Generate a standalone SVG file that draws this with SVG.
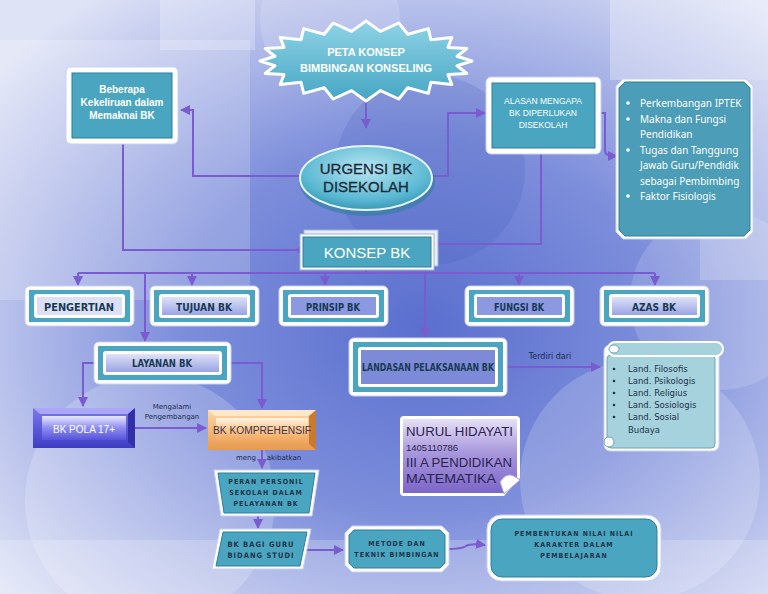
<svg xmlns="http://www.w3.org/2000/svg" width="768" height="594" viewBox="0 0 768 594">
<defs>
<radialGradient id="bg" cx="0.55" cy="0.55" r="0.7">
<stop offset="0" stop-color="#5a6fcf"/>
<stop offset="0.45" stop-color="#7d8edb"/>
<stop offset="1" stop-color="#dfe3f6"/>
</radialGradient>
<linearGradient id="burst" x1="0" y1="0" x2="0" y2="1">
<stop offset="0" stop-color="#8fd3e6"/>
<stop offset="1" stop-color="#45a6c3"/>
</linearGradient>
<radialGradient id="ell" cx="0.5" cy="0.35" r="0.7">
<stop offset="0" stop-color="#b8e6f2"/>
<stop offset="0.7" stop-color="#5ab8d2"/>
<stop offset="1" stop-color="#2f8fae"/>
</radialGradient>
<linearGradient id="pola" x1="0" y1="0" x2="0" y2="1">
<stop offset="0" stop-color="#7a78ee"/>
<stop offset="1" stop-color="#3e3cc4"/>
</linearGradient>
<linearGradient id="polaIn" x1="0" y1="0" x2="0" y2="1">
<stop offset="0" stop-color="#e6e8ff"/>
<stop offset="0.5" stop-color="#8e8cf2"/>
<stop offset="1" stop-color="#5553d8"/>
</linearGradient>
<linearGradient id="komp" x1="0" y1="0" x2="0" y2="1">
<stop offset="0" stop-color="#ffd7a8"/>
<stop offset="1" stop-color="#e79a4e"/>
</linearGradient>
<linearGradient id="kompIn" x1="0" y1="0" x2="0" y2="1">
<stop offset="0" stop-color="#fff4e4"/>
<stop offset="0.5" stop-color="#fcc58a"/>
<stop offset="1" stop-color="#f0a45c"/>
</linearGradient>
<linearGradient id="card" x1="0" y1="0" x2="0" y2="1">
<stop offset="0" stop-color="#e6e0f6"/>
<stop offset="0.45" stop-color="#a898dc"/>
<stop offset="1" stop-color="#7c66c8"/>
</linearGradient>
<linearGradient id="inner" x1="0" y1="0" x2="0" y2="1">
<stop offset="0" stop-color="#dfe2f8"/>
<stop offset="1" stop-color="#9aa4e4"/>
</linearGradient>
<marker id="ah" viewBox="0 0 10 10" refX="9" refY="5" markerWidth="5" markerHeight="5" orient="auto">
<path d="M0,0 L10,5 L0,10 z" fill="#7b5bd0"/>
</marker>
<style>
.ln{fill:none;stroke:#7b5bd0;stroke-width:2}
.frame{fill:#ffffff;stroke:#c9d2ee;stroke-width:1}
.teal{fill:#4aa6c0;stroke:#2f7f98;stroke-width:1}
.cap{font-family:"DejaVu Sans Condensed","DejaVu Sans",sans-serif;font-weight:bold;fill:#173a52;text-anchor:middle}
.wt{font-family:"Liberation Sans",Arial,sans-serif;fill:#ffffff;text-anchor:middle}
.sm{font-family:"DejaVu Sans Condensed","DejaVu Sans",sans-serif;font-weight:bold;fill:#1d3347;text-anchor:middle;letter-spacing:1px}
.bul{font-family:"Noto Sans",sans-serif;fill:#ffffff;font-size:10px}
.sc{font-family:"DejaVu Sans","Liberation Sans",sans-serif;fill:#1d3347;font-size:8.5px}
.lbl{font-family:"DejaVu Sans","Liberation Sans",sans-serif;fill:#1d2a4a;font-size:7px;text-anchor:middle}
</style>
</defs>

<!-- background -->
<rect width="768" height="594" fill="url(#bg)"/>
<g fill="#ffffff">
<rect x="0" y="40" width="250" height="260" opacity="0.2"/>
<rect x="160" y="0" width="95" height="50" opacity="0.25"/>
<rect x="610" y="0" width="158" height="80" opacity="0.3"/>
<circle cx="150" cy="500" r="125" opacity="0.2"/>
<circle cx="430" cy="170" r="95" fill="#3d56b8" opacity="0.18"/>
<circle cx="640" cy="480" r="120" opacity="0.18"/>
<circle cx="720" cy="300" r="90" opacity="0.15"/>
<circle cx="330" cy="20" r="70" opacity="0.15"/>
<rect x="0" y="540" width="768" height="54" opacity="0.2"/>
<rect x="700" y="80" width="68" height="200" opacity="0.2"/>
</g>

<!-- connectors -->
<g id="connectors">
<path class="ln" d="M366,101 V128" marker-end="url(#ah)"/>
<path class="ln" d="M305,176 H193 V110 H181" marker-end="url(#ah)"/>
<path class="ln" d="M430,176 H448 V113 H485" marker-end="url(#ah)"/>
<path class="ln" d="M600,113 H605 V150 Q605,156 612,156 H617" marker-end="url(#ah)"/>
<path class="ln" d="M541,153 V244 H437"/>
<circle cx="437" cy="244" r="3" fill="#7b5bd0"/>
<path class="ln" d="M123,143 V250 H300"/>
<circle cx="300" cy="250" r="3" fill="#7b5bd0"/>
<path class="ln" d="M366,270 V273"/>
<path class="ln" d="M78,273 H655"/>
<path class="ln" d="M78,273 V285" marker-end="url(#ah)"/>
<path class="ln" d="M192,273 V285" marker-end="url(#ah)"/>
<path class="ln" d="M325,273 V285" marker-end="url(#ah)"/>
<path class="ln" d="M519,273 V285" marker-end="url(#ah)"/>
<path class="ln" d="M655,273 V285" marker-end="url(#ah)"/>
<path class="ln" d="M145,273 V341" marker-end="url(#ah)"/>
<path class="ln" d="M425,273 V337" marker-end="url(#ah)"/>
<path class="ln" d="M505,367 H600" marker-end="url(#ah)"/>
<path class="ln" d="M95,363 H83 V406" marker-end="url(#ah)"/>
<path class="ln" d="M230,363 H262 V408" marker-end="url(#ah)"/>
<path class="ln" d="M135,428 H206" marker-end="url(#ah)"/>
<path class="ln" d="M262,450 V468" marker-end="url(#ah)"/>
<path class="ln" d="M258,515 V528" marker-end="url(#ah)"/>
<path class="ln" d="M305,550 H343" marker-end="url(#ah)"/>
<path class="ln" d="M447,549 Q462,549 466,546 Q470,543 485,545" marker-end="url(#ah)"/>
</g>

<!-- title -->
<g id="title">
<polygon points="472,61 457,65.7 466.8,73.4 448,74.6 451.8,84.5 431,82.2 428.3,93.4 407.8,87.7 398.8,99 380.4,90.6 366,101 351.6,90.6 333.2,99 324.2,87.7 303.7,93.4 301,82.2 280.2,84.5 284,74.6 265.2,73.4 275,65.7 260,61 275,56.3 265.2,48.6 284,47.4 280.2,37.5 301,39.8 303.7,28.6 324.2,34.3 333.2,23 351.6,31.4 366,21 380.4,31.4 398.8,23 407.8,34.3 428.3,28.6 431,39.8 451.8,37.5 448,47.4 466.8,48.6 457,56.3" fill="url(#burst)" stroke="#ffffff" stroke-width="3" stroke-linejoin="round"/>
<text class="wt" x="366" y="56" font-size="11" font-weight="bold">PETA KONSEP</text>
<text class="wt" x="366" y="72" font-size="11" font-weight="bold">BIMBINGAN KONSELING</text>
</g>

<g id="kekeliruan">
<rect x="66" y="67" width="112" height="77" rx="5" class="frame"/>
<rect x="72" y="73" width="100" height="65" class="teal"/>
<text class="wt" x="122" y="93" font-size="10" font-weight="bold">Beberapa</text>
<text class="wt" x="122" y="106" font-size="10" font-weight="bold">Kekeliruan dalam</text>
<text class="wt" x="122" y="119" font-size="10" font-weight="bold">Memaknai BK</text>
</g>

<g id="urgensi">
<ellipse cx="367" cy="181" rx="68" ry="35" fill="#2c7f9c" opacity="0.6"/>
<ellipse cx="366" cy="178" rx="66" ry="32" fill="url(#ell)" stroke="#e8f6fa" stroke-width="2"/>
<text x="366" y="174" font-family="Liberation Sans,Arial,sans-serif" font-size="15" fill="#1a2a3a" text-anchor="middle" stroke="#1a2a3a" stroke-width="0.3">URGENSI BK</text>
<text x="366" y="192" font-family="Liberation Sans,Arial,sans-serif" font-size="15" fill="#1a2a3a" text-anchor="middle" stroke="#1a2a3a" stroke-width="0.3">DISEKOLAH</text>
</g>

<g id="alasan">
<rect x="486" y="77" width="115" height="77" rx="5" class="frame"/>
<rect x="492" y="83" width="103" height="65" class="teal"/>
<text class="wt" x="543" y="104" font-size="8.5">ALASAN MENGAPA</text>
<text class="wt" x="543" y="116" font-size="8.5">BK DIPERLUKAN</text>
<text class="wt" x="543" y="128" font-size="8.5">DISEKOLAH</text>
</g>

<g id="faktor">
<polygon points="623,79 746,79 753,86 753,232 746,239 623,239 616,232 616,86" fill="#ffffff" stroke="#c9d2ee"/>
<polygon points="625,82 744,82 750,88 750,230 744,236 625,236 619,230 619,88" fill="#4c9db7" stroke="#2f7f98"/>
<g class="bul">
<circle cx="628" cy="103" r="1.8" fill="#ffffff"/>
<text x="640" y="107">Perkembangan IPTEK</text>
<circle cx="628" cy="119" r="1.8" fill="#ffffff"/>
<text x="640" y="123">Makna dan Fungsi</text>
<text x="640" y="138">Pendidikan</text>
<circle cx="628" cy="150" r="1.8" fill="#ffffff"/>
<text x="640" y="154">Tugas dan Tanggung</text>
<text x="640" y="169">Jawab Guru/Pendidik</text>
<text x="640" y="185">sebagai Pembimbing</text>
<circle cx="628" cy="196" r="1.8" fill="#ffffff"/>
<text x="640" y="200">Faktor Fisiologis</text>
</g>
</g>

<g id="konsep">
<rect x="304" y="230" width="134" height="36" fill="#e8eefa" stroke="#9fb0d8"/>
<rect x="300" y="234" width="134" height="36" fill="#ffffff" stroke="#9fb0d8"/>
<rect x="303" y="237" width="128" height="30" fill="#4aa6c0" stroke="#2f7f98"/>
<text x="367" y="258" font-family="Liberation Sans,Arial,sans-serif" font-size="15" fill="#ffffff" text-anchor="middle">KONSEP BK</text>
</g>

<g id="pengertian">
<rect x="25" y="286" width="109" height="40" rx="5" class="frame"/>
<rect x="29" y="290" width="101" height="32" fill="#4aa6c0"/>
<rect x="34" y="294" width="91" height="24" rx="3" fill="#ffffff"/>
<rect x="37" y="297" width="85" height="18" fill="#dde0f4"/>
<text class="cap" x="79" y="311" font-size="11" textLength="70" lengthAdjust="spacingAndGlyphs">PENGERTIAN</text>
</g>
<g id="tujuan">
<rect x="150" y="286" width="109" height="40" rx="5" class="frame"/>
<rect x="154" y="290" width="101" height="32" fill="#4aa6c0"/>
<rect x="159" y="294" width="91" height="24" rx="3" fill="#ffffff"/>
<rect x="162" y="297" width="85" height="18" fill="url(#inner)"/>
<text class="cap" x="204" y="311" font-size="11" textLength="56" lengthAdjust="spacingAndGlyphs">TUJUAN BK</text>
</g>
<g id="prinsip">
<rect x="279" y="286" width="109" height="40" rx="5" class="frame"/>
<rect x="283" y="290" width="101" height="32" fill="#4aa6c0"/>
<rect x="288" y="294" width="91" height="24" rx="3" fill="#ffffff"/>
<rect x="291" y="297" width="85" height="18" fill="#8c98e0"/>
<text class="cap" x="333" y="311" font-size="11" textLength="54" lengthAdjust="spacingAndGlyphs">PRINSIP BK</text>
</g>
<g id="fungsi">
<rect x="465" y="286" width="109" height="40" rx="5" class="frame"/>
<rect x="469" y="290" width="101" height="32" fill="#4aa6c0"/>
<rect x="474" y="294" width="91" height="24" rx="3" fill="#ffffff"/>
<rect x="477" y="297" width="85" height="18" fill="#8c98e0"/>
<text class="cap" x="519" y="311" font-size="11" textLength="50" lengthAdjust="spacingAndGlyphs">FUNGSI BK</text>
</g>
<g id="azas">
<rect x="600" y="286" width="109" height="40" rx="5" class="frame"/>
<rect x="604" y="290" width="101" height="32" fill="#4aa6c0"/>
<rect x="609" y="294" width="91" height="24" rx="3" fill="#ffffff"/>
<rect x="612" y="297" width="85" height="18" fill="url(#inner)"/>
<text class="cap" x="654" y="311" font-size="11" textLength="44" lengthAdjust="spacingAndGlyphs">AZAS BK</text>
</g>

<g id="layanan">
<rect x="94" y="342" width="137" height="42" rx="5" class="frame"/>
<rect x="98" y="346" width="129" height="34" fill="#4aa6c0"/>
<rect x="103" y="351" width="119" height="24" rx="3" fill="#ffffff"/>
<rect x="106" y="354" width="113" height="18" fill="url(#inner)"/>
<text class="cap" x="162" y="367" font-size="11" textLength="60" lengthAdjust="spacingAndGlyphs">LAYANAN BK</text>
</g>

<g id="landasan">
<rect x="349" y="338" width="158" height="58" rx="5" class="frame"/>
<rect x="353" y="342" width="150" height="50" fill="#4aa6c0"/>
<rect x="358" y="347" width="140" height="40" rx="3" fill="#ffffff"/>
<rect x="361" y="350" width="134" height="34" fill="#7d8ad8"/>
<text class="cap" x="428" y="371" font-size="11" textLength="132" lengthAdjust="spacingAndGlyphs">LANDASAN PELAKSANAAN BK</text>
</g>
<text x="550" y="359" font-family="DejaVu Sans,Liberation Sans,sans-serif" font-size="8" fill="#1d2a4a" text-anchor="middle">Terdiri dari</text>

<g id="landasan-list">
<rect x="604" y="345" width="115" height="106" rx="6" fill="#ffffff" stroke="#c9d2ee"/>
<rect x="607" y="355" width="108" height="93" rx="4" fill="#a6d2de" stroke="#6aa4b8"/>
<rect x="608" y="342" width="115" height="14" rx="7" fill="#a6d2de" stroke="#ffffff" stroke-width="2"/>
<ellipse cx="614" cy="349" rx="5" ry="4" fill="#ffffff" stroke="#6aa4b8"/>
<ellipse cx="609" cy="442" rx="5" ry="5" fill="#ffffff" stroke="#6aa4b8"/>
<g class="sc">
<circle cx="614" cy="369" r="1.3" fill="#1d3347"/><text x="628" y="372">Land. Filosofis</text>
<circle cx="614" cy="381" r="1.3" fill="#1d3347"/><text x="628" y="384">Land. Psikologis</text>
<circle cx="614" cy="393" r="1.3" fill="#1d3347"/><text x="628" y="396">Land. Religius</text>
<circle cx="614" cy="405" r="1.3" fill="#1d3347"/><text x="628" y="408">Land. Sosiologis</text>
<circle cx="614" cy="417" r="1.3" fill="#1d3347"/><text x="628" y="420">Land. Sosial</text>
<text x="628" y="433">Budaya</text>
</g>
</g>

<g id="pola">
<rect x="33" y="408" width="102" height="40" fill="url(#pola)"/>
<polygon points="33,408 135,408 128,414 40,414" fill="#a9a8f6"/>
<polygon points="135,408 135,448 128,442 128,414" fill="#3230a8"/>
<rect x="42" y="416" width="84" height="24" fill="url(#polaIn)"/>
<text x="84" y="433" font-family="Liberation Sans,Arial,sans-serif" font-size="10" fill="#ffffff" text-anchor="middle">BK POLA 17+</text>
</g>
<text class="lbl" x="172" y="409">Mengalami</text>
<text class="lbl" x="172" y="419">Pengembangan</text>

<g id="komprehensif">
<rect x="208" y="410" width="108" height="40" fill="url(#komp)"/>
<polygon points="208,410 316,410 309,416 215,416" fill="#ffe8c8"/>
<polygon points="316,410 316,450 309,444 309,416" fill="#c97a30"/>
<rect x="216" y="418" width="92" height="24" fill="url(#kompIn)"/>
<text x="262" y="434" font-family="Liberation Sans,Arial,sans-serif" font-size="10" fill="#3a3550" text-anchor="middle" textLength="98" lengthAdjust="spacingAndGlyphs">BK KOMPREHENSIF</text>
</g>
<text class="lbl" x="246" y="460">meng</text>
<text class="lbl" x="284" y="460">akibatkan</text>

<g id="nurul">
<path d="M400,420 Q400,416 404,416 H516 Q520,416 520,420 V478 L504,496 H404 Q400,496 400,492 Z" fill="#ffffff"/>
<path d="M403,419 H517 V477 L503,493 H403 Z" fill="url(#card)"/>
<path d="M504,494 L500,482 Q506,472 514,476 L520,480 Z" fill="#ffffff" stroke="#a898dc"/>
<g font-family="Liberation Sans,Arial,sans-serif" fill="#2a2250">
<text x="406" y="436" font-size="12.5" textLength="107" lengthAdjust="spacingAndGlyphs">NURUL HIDAYATI</text>
<text x="406" y="451" font-size="9.5">1405110786</text>
<text x="406" y="467" font-size="12.5" textLength="106" lengthAdjust="spacingAndGlyphs">III A PENDIDIKAN</text>
<text x="406" y="483" font-size="12.5" textLength="90" lengthAdjust="spacingAndGlyphs">MATEMATIKA</text>
</g>
</g>

<g id="peran">
<polygon points="214,470 319,470 312,516 221,516" fill="#ffffff" stroke="#c9d2ee"/>
<polygon points="218,473 315,473 309,513 224,513" fill="#4aa6c0" stroke="#2f7f98"/>
<text class="sm" x="266" y="484" font-size="7">PERAN PERSONIL</text>
<text class="sm" x="266" y="495" font-size="7">SEKOLAH DALAM</text>
<text class="sm" x="266" y="506" font-size="7">PELAYANAN BK</text>
</g>

<g id="bkguru">
<polygon points="220,529 311,529 303,569 212,569" fill="#ffffff" stroke="#c9d2ee"/>
<polygon points="223,532 307,532 300,566 216,566" fill="#4aa6c0" stroke="#2f7f98"/>
<text class="sm" x="261" y="547" font-size="7.5">BK BAGI GURU</text>
<text class="sm" x="261" y="558" font-size="7.5">BIDANG STUDI</text>
</g>

<g id="metode">
<polygon points="352,526 442,526 449,533 449,565 442,572 352,572 345,565 345,533" fill="#ffffff" stroke="#c9d2ee"/>
<polygon points="354,530 440,530 445,535 445,563 440,568 354,568 349,563 349,535" fill="#4aa6c0" stroke="#2f7f98"/>
<text class="sm" x="397" y="546" font-size="7">METODE DAN</text>
<text class="sm" x="397" y="557" font-size="7">TEKNIK BIMBINGAN</text>
</g>

<g id="pembentukan">
<rect x="487" y="515" width="174" height="66" rx="14" fill="#ffffff" stroke="#c9d2ee"/>
<rect x="491" y="519" width="166" height="58" rx="11" fill="#4aa6c0" stroke="#2f7f98"/>
<text class="sm" x="574" y="536" font-size="7">PEMBENTUKAN NILAI NILAI</text>
<text class="sm" x="574" y="547" font-size="7">KARAKTER DALAM</text>
<text class="sm" x="574" y="558" font-size="7">PEMBELAJARAN</text>
</g>
</svg>
